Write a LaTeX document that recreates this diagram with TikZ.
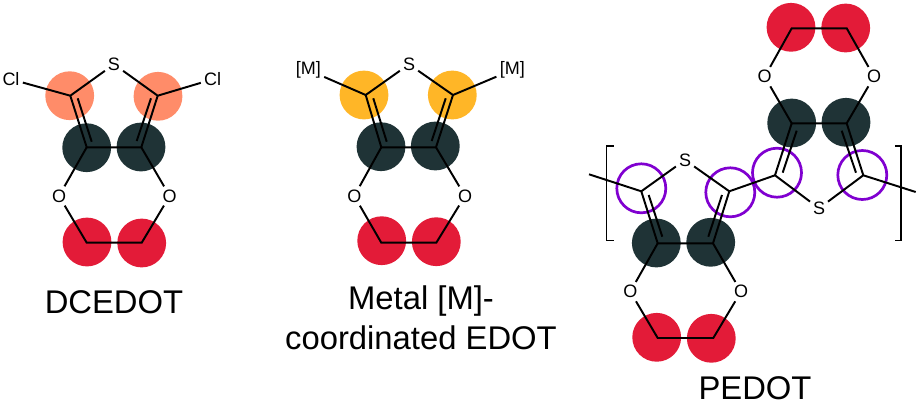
\documentclass[tikz,border=0pt]{standalone}
\usepackage{fontspec}
\setmainfont{Liberation Sans}
\newcommand{\bigtext}{\fontsize{32.8}{38}\selectfont}
\newcommand{\atomtext}{\fontsize{18}{20}\selectfont}
\definecolor{coralc}{HTML}{FF8C69}
\definecolor{amberc}{HTML}{FFB627}
\definecolor{darkc}{HTML}{1F3336}
\definecolor{redc}{HTML}{E31B38}
\definecolor{purplec}{HTML}{8000D0}
\tikzset{
  x=1pt,y=-1pt,
  blob/.style={circle,minimum size=48.8pt,inner sep=0pt,fill=#1},
  ringmark/.style={circle,minimum size=49pt,inner sep=0pt,draw=purplec,line width=2.7pt},
  atom/.style={circle,minimum size=22pt,inner sep=0pt,font=\atomtext},
  subst/.style={rectangle,inner sep=3.2pt,font=\atomtext},
  bond/.style={line width=1.95pt,black,line join=miter},
  bracket/.style={line width=1.5pt,black},
  caption/.style={anchor=base,inner sep=0pt,font=\bigtext}
}
\begin{document}
\begin{tikzpicture}
\useasboundingbox[fill=white] (0,0) rectangle (919,405);

% ---------- DCEDOT ----------
\node[blob=coralc] (a1) at (69.7,95.7) {};
\node[blob=coralc] (a2) at (158,96.3) {};
\node[blob=darkc] (a3) at (86.7,147.7) {};
\node[blob=darkc] (a4) at (141,147) {};
\node[blob=redc] (a5) at (87,242) {};
\node[blob=redc] (a6) at (141.7,243) {};
\node[atom] (aS) at (114,64.3) {S};
\node[atom] (aOl) at (59,196) {O};
\node[atom] (aOr) at (169.7,196) {O};
\node[subst] (aXl) at (11,79.3) {Cl};
\node[subst] (aXr) at (212.7,79.3) {Cl};
\coordinate (aC1) at (70.3,95.7);
\coordinate (aC2) at (157.7,95.7);
\coordinate (aC3) at (86.7,147.3);
\coordinate (aC4) at (141.3,147.3);
\coordinate (aC5) at (86.7,242.7);
\coordinate (aC6) at (141.7,242.7);
\coordinate (aI1) at (77.7,98.3);
\coordinate (aI2) at (91.7,141.7);
\coordinate (aI3) at (151,98.3);
\coordinate (aI4) at (136.7,141);
\draw[bond] (aXl) -- (aC1) -- (aS);
\draw[bond] (aXr) -- (aC2) -- (aS);
\draw[bond] (aC1) -- (aC3) -- (aC4) -- (aC2);
\draw[bond] (aI1) -- (aI2);
\draw[bond] (aI3) -- (aI4);
\draw[bond] (aC3) -- (aOl) -- (aC5) -- (aC6) -- (aOr) -- (aC4);
\node[caption] (aT) at (114,313) {DCEDOT};

% ---------- Metal EDOT ----------
\node[blob=amberc] (b1) at (364,95) {};
\node[blob=amberc] (b2) at (452.3,95) {};
\node[blob=darkc] (b3) at (381,146.7) {};
\node[blob=darkc] (b4) at (435.3,146) {};
\node[blob=redc] (b5) at (381.7,240.7) {};
\node[blob=redc] (b6) at (436.3,241.7) {};
\node[atom] (bS) at (409,64.3) {S};
\node[atom] (bOl) at (354.3,196) {O};
\node[atom] (bOr) at (465,196) {O};
\node[subst] (bXl) at (308.3,70) {[M]};
\node[subst] (bXr) at (512.3,70) {[M]};
\coordinate (bC1) at (365.7,95);
\coordinate (bC2) at (453,95);
\coordinate (bC3) at (381.3,147.3);
\coordinate (bC4) at (436,147.3);
\coordinate (bC5) at (381.3,242.7);
\coordinate (bC6) at (436.3,242.7);
\coordinate (bI1) at (373.3,98.3);
\coordinate (bI2) at (386.7,141.7);
\coordinate (bI3) at (445.7,98.3);
\coordinate (bI4) at (431.7,141);
\draw[bond] (bXl) -- (bC1) -- (bS);
\draw[bond] (bXr) -- (bC2) -- (bS);
\draw[bond] (bC1) -- (bC3) -- (bC4) -- (bC2);
\draw[bond] (bI1) -- (bI2);
\draw[bond] (bI3) -- (bI4);
\draw[bond] (bC3) -- (bOl) -- (bC5) -- (bC6) -- (bOr) -- (bC4);
\node[caption] (bT1) at (421,309.3) {Metal [M]-};
\node[caption] (bT2) at (421,349) {coordinated EDOT};

% ---------- PEDOT, lower unit ----------
\node[blob=darkc] (c3) at (656.3,243) {};
\node[blob=darkc] (c4) at (710.7,242.3) {};
\node[blob=redc] (c5) at (656.7,337.3) {};
\node[blob=redc] (c6) at (711.3,338.3) {};
\node[ringmark] (c1) at (641.3,188.3) {};
\node[ringmark] (c2) at (730.3,192.3) {};
\node[atom] (cS) at (685,160) {S};
\node[atom] (cOl) at (630.3,291.7) {O};
\node[atom] (cOr) at (741,291.7) {O};
\coordinate (cEnd) at (589,174.3);
\coordinate (cC1) at (641.3,191.3);
\coordinate (cC2) at (729.3,191.3);
\coordinate (cC3) at (657.7,243.3);
\coordinate (cC4) at (713,243.3);
\coordinate (cC5) at (657.7,338);
\coordinate (cC6) at (713.3,338);
\coordinate (cI1) at (648.7,195);
\coordinate (cI2) at (662.3,236.7);
\coordinate (cI3) at (722,195);
\coordinate (cI4) at (708.3,236.7);
\draw[bond] (cEnd) -- (cC1) -- (cS) -- (cC2);
\draw[bond] (cC1) -- (cC3) -- (cC4) -- (cC2);
\draw[bond] (cI1) -- (cI2);
\draw[bond] (cI3) -- (cI4);
\draw[bond] (cC3) -- (cOl) -- (cC5) -- (cC6) -- (cOr) -- (cC4);
\node[caption] (cT) at (755,399.5) {PEDOT};

% ---------- PEDOT, upper unit ----------
\node[blob=darkc] (d3) at (791.7,123) {};
\node[blob=darkc] (d4) at (846,122.3) {};
\node[blob=redc] (d5) at (791,27.3) {};
\node[blob=redc] (d6) at (845.7,28) {};
\node[ringmark] (d1) at (777,172.7) {};
\node[ringmark] (d2) at (862.3,175) {};
\node[atom] (dS) at (819,208.3) {S};
\node[atom] (dOl) at (764.7,76.7) {O};
\node[atom] (dOr) at (874,76.7) {O};
\coordinate (dEnd) at (915.7,192);
\coordinate (dC1) at (775,175.3);
\coordinate (dC2) at (863.3,175.3);
\coordinate (dC3) at (791.7,123.3);
\coordinate (dC4) at (846.7,123.3);
\coordinate (dC5) at (791.7,28.3);
\coordinate (dC6) at (846.7,28.3);
\coordinate (dI1) at (796.7,130.7);
\coordinate (dI2) at (782.7,172.7);
\coordinate (dI3) at (841.7,130.7);
\coordinate (dI4) at (856,172.7);
\draw[bond] (cC2) -- (dC1) -- (dS) -- (dC2) -- (dEnd);
\draw[bond] (dC1) -- (dC3) -- (dC4) -- (dC2);
\draw[bond] (dI1) -- (dI2);
\draw[bond] (dI3) -- (dI4);
\draw[bond] (dC3) -- (dOl) -- (dC5) -- (dC6) -- (dOr) -- (dC4);

% ---------- brackets ----------
\coordinate (bl1) at (613.7,146);
\coordinate (bl2) at (606.7,146);
\coordinate (bl3) at (606.7,240.7);
\coordinate (bl4) at (613.7,240.7);
\coordinate (br1) at (895.3,146);
\coordinate (br2) at (901,146);
\coordinate (br3) at (901,240.7);
\coordinate (br4) at (895.3,240.7);
\draw[bracket] (bl1) -- (bl2) -- (bl3) -- (bl4);
\draw[bracket] (br1) -- (br2) -- (br3) -- (br4);
\end{tikzpicture}
\end{document}
